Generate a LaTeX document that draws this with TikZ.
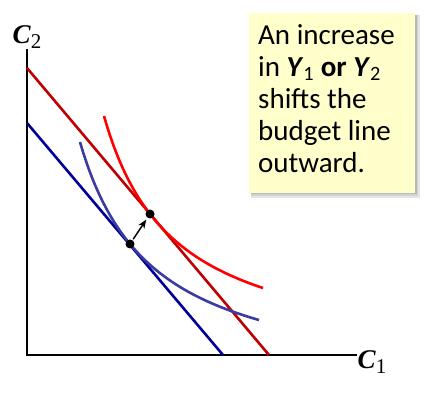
\documentclass[tikz,border=0pt]{standalone}
\usepackage{fontspec}
\setmainfont{Carlito}
\newfontfamily\tnr{Liberation Serif}
\usetikzlibrary{arrows.meta}
\definecolor{redline}{RGB}{192,0,0}
\definecolor{redcurve}{RGB}{255,0,0}
\definecolor{blueline}{RGB}{0,0,153}
\definecolor{bluecurve}{RGB}{60,60,160}
\definecolor{notefill}{RGB}{255,255,204}
\tikzset{
  axis/.style={line width=1.4pt, black},
  budget/.style={line width=2.6pt},
  icurve/.style={line width=2.6pt, smooth},
  dot/.style={circle, fill=black, inner sep=0pt, minimum size=9pt},
  axlabel/.style={inner sep=0pt, font=\tnr\fontsize{27}{30}\selectfont},
}
\newcommand{\axl}[1]{{\bfseries\itshape C}\raisebox{-0.45ex}{\fontsize{21}{22}\selectfont #1}}
\begin{document}
\begin{tikzpicture}[x=1pt,y=-1pt]
\useasboundingbox (0,0) rectangle (434,398);
% axes
\coordinate (o) at (27,355);
\coordinate (ytop) at (27,49);
\coordinate (xend) at (357,355);
\draw[axis] (ytop) -- (o) -- (xend);
\node[axlabel] (c2) at (27,37) {\axl{2}};
\node[axlabel] (c1) at (372,362) {\axl{1}};
% budget lines
\coordinate (b1s) at (27,123);
\coordinate (b1e) at (223,355);
\coordinate (b2s) at (27,68);
\coordinate (b2e) at (269,355);
\draw[budget, blueline] (b1s) -- (b1e);
\draw[budget, redline] (b2s) -- (b2e);
% indifference curves
\draw[icurve, bluecurve] plot[domain=80:259, samples=60] (\x, {392.3 - 181.93/((\x-7.31)/100)});
\draw[icurve, redcurve] plot[domain=104:263, samples=60] (\x, {364.4 - 175.38/((\x-33.4)/100)});
% tangency points
\node[dot] (p1) at (130,244) {};
\node[dot] (p2) at (150,214) {};
\draw[line width=1.5pt, -{Stealth[length=9pt,width=7pt]}, shorten >=2pt, shorten <=1pt] (p1) -- (p2);
% note box with soft shadow
\fill[gray!20] (251,15) rectangle (420,198);
\fill[gray!35] (251,15) rectangle (418,196);
\fill[gray!55] (251,15) rectangle (416.5,194.5);
\node[draw=none, fill=notefill, minimum width=166pt, minimum height=180pt, anchor=north west, inner sep=0pt] (box) at (249,13) {};
\node[anchor=north west, inner sep=0pt, align=left, font=\fontsize{29}{32}\selectfont] (note) at (258,24)
 {An increase\\in \textbf{\textit{Y}}\textsubscript{1} \textbf{or} \textbf{\textit{Y}}\textsubscript{2}\\shifts the\\budget line\\outward.};
\end{tikzpicture}
\end{document}
